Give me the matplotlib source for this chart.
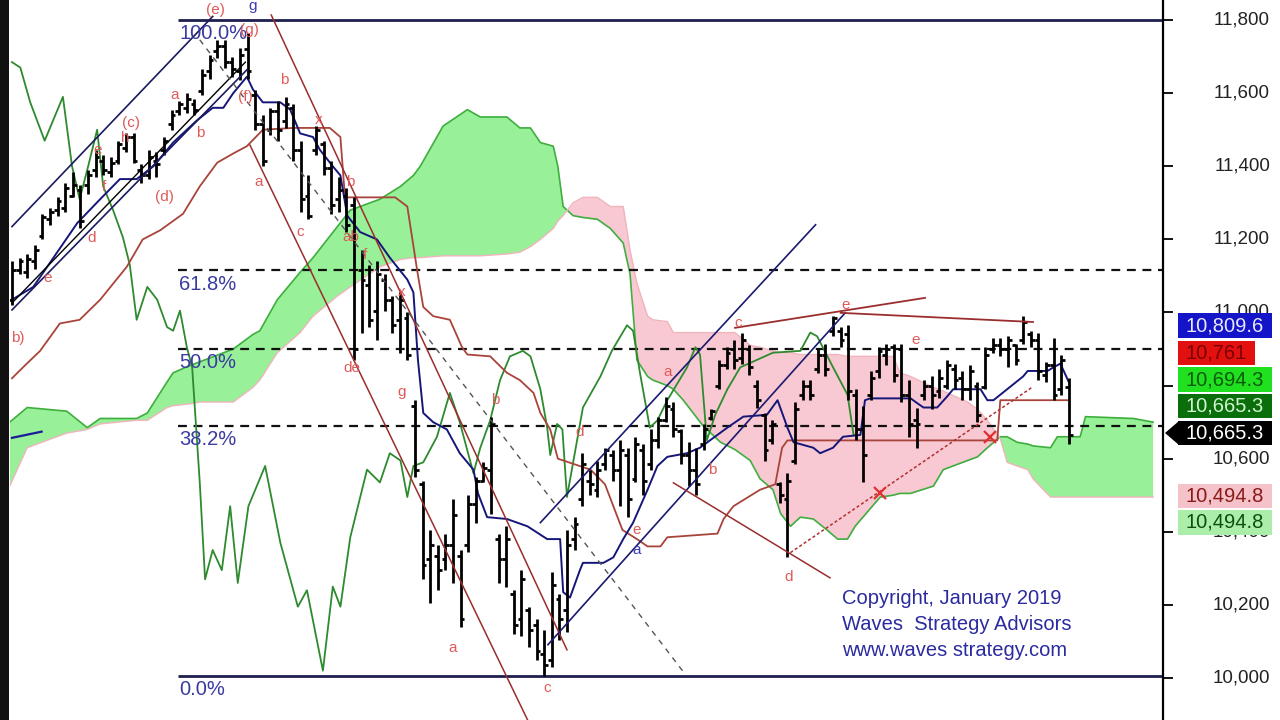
import numpy as np
import matplotlib
matplotlib.use("Agg")
import matplotlib.pyplot as plt
from matplotlib.patches import Rectangle, Polygon
from matplotlib.transforms import blended_transform_factory

plt.rcParams['font.family'] = ['Liberation Sans', 'DejaVu Sans']

# ---------------- data ----------------
highs = [11140, 11150, 11160, 11185, 11270, 11285, 11315, 11355, 11385, 11350,
         11390, 11445, 11430, 11425, 11470, 11490, 11490, 11405, 11445, 11440,
         11480, 11555, 11580, 11600, 11585, 11665, 11705, 11745, 11745, 11700,
         11725, 11765, 11610, 11540, 11560, 11580, 11590, 11570, 11470, 11375,
         11510, 11470, 11415, 11370, 11340, 11315, 11170, 11130, 11140, 11105,
         11045, 11055, 11000, 10760, 10540, 10405, 10365, 10395, 10490, 10350,
         10500, 10550, 10590, 10715, 10395, 10415, 10240, 10295, 10195, 10160,
         10130, 10290, 10230, 10405, 10440, 10615, 10570, 10595, 10630, 10625,
         10650, 10630, 10660, 10640, 10680, 10715, 10770, 10755, 10680, 10645,
         10630, 10695, 10735, 10870, 10905, 10925, 10945, 10910, 10815, 10725,
         10705, 10535, 10560, 10755, 10815, 10815, 10900, 10915, 10990, 10960,
         10965, 10790, 10745, 10840, 10905, 10915, 10915, 10915, 10815, 10740,
         10815, 10825, 10845, 10870, 10860, 10840, 10855, 10810, 10905, 10930,
         10930, 10935, 10915, 10990, 10950, 10945, 10865, 10930, 10885, 10820]
lows = [11020, 11105, 11095, 11120, 11200, 11240, 11265, 11275, 11315, 11230,
        11325, 11370, 11375, 11370, 11405, 11440, 11410, 11355, 11365, 11370,
        11430, 11500, 11540, 11545, 11540, 11595, 11640, 11695, 11670, 11645,
        11635, 11640, 11500, 11400, 11485, 11470, 11505, 11415, 11275, 11255,
        11430, 11375, 11270, 11275, 11220, 10870, 10945, 10960, 10925, 11005,
        10945, 10890, 10870, 10550, 10270, 10205, 10240, 10295, 10260, 10140,
        10345, 10425, 10535, 10450, 10260, 10250, 10120, 10115, 10085, 10050,
        10005, 10030, 10105, 10125, 10350, 10470, 10500, 10495, 10570, 10540,
        10470, 10440, 10535, 10500, 10570, 10630, 10700, 10660, 10585, 10525,
        10500, 10625, 10705, 10790, 10845, 10845, 10860, 10830, 10740, 10595,
        10640, 10480, 10330, 10585, 10760, 10760, 10835, 10825, 10935, 10905,
        10760, 10650, 10535, 10760, 10820, 10855, 10810, 10755, 10660, 10630,
        10760, 10735, 10765, 10790, 10790, 10760, 10760, 10700, 10790, 10890,
        10880, 10850, 10855, 10915, 10905, 10815, 10810, 10760, 10775, 10640]
opens = [11035, 11115, 11110, 11140, 11210, 11255, 11280, 11285, 11320, 11335,
         11350, 11390, 11415, 11385, 11415, 11450, 11480, 11390, 11375, 11415,
         11445, 11515, 11550, 11560, 11570, 11605, 11660, 11715, 11730, 11685,
         11660, 11720, 11595, 11515, 11500, 11550, 11525, 11560, 11445, 11320,
         11445, 11460, 11395, 11310, 11320, 11295, 11115, 11075, 11005, 11090,
         11035, 10980, 10985, 10745, 10530, 10325, 10335, 10325, 10365, 10335,
         10365, 10475, 10540, 10570, 10380, 10325, 10230, 10160, 10185, 10145,
         10065, 10050, 10215, 10185, 10380, 10490, 10540, 10515, 10585, 10610,
         10570, 10610, 10545, 10625, 10585, 10650, 10705, 10735, 10675, 10610,
         10570, 10640, 10710, 10800, 10855, 10900, 10875, 10900, 10800, 10720,
         10650, 10530, 10490, 10595, 10775, 10800, 10845, 10885, 10950, 10950,
         10940, 10775, 10680, 10775, 10840, 10885, 10905, 10900, 10775, 10705,
         10775, 10800, 10785, 10800, 10845, 10820, 10790, 10800, 10795, 10900,
         10910, 10900, 10910, 10925, 10940, 10925, 10830, 10855, 10790, 10795]
closes = [11115, 11140, 11145, 11170, 11260, 11275, 11305, 11340, 11350, 11250,
          11375, 11425, 11390, 11410, 11460, 11480, 11415, 11375, 11425, 11405,
          11470, 11540, 11570, 11585, 11555, 11650, 11690, 11730, 11685, 11665,
          11705, 11660, 11515, 11415, 11550, 11500, 11570, 11445, 11310, 11265,
          11500, 11395, 11295, 11335, 11240, 10900, 11090, 10980, 11105, 11035,
          10965, 11035, 10885, 10570, 10310, 10365, 10295, 10365, 10445, 10160,
          10475, 10540, 10575, 10695, 10325, 10380, 10145, 10270, 10130, 10075,
          10035, 10255, 10160, 10365, 10420, 10585, 10530, 10570, 10625, 10570,
          10625, 10490, 10640, 10540, 10650, 10705, 10745, 10680, 10610, 10570,
          10530, 10680, 10730, 10855, 10890, 10870, 10925, 10850, 10760, 10625,
          10695, 10500, 10540, 10735, 10800, 10775, 10885, 10845, 10985, 10925,
          10785, 10680, 10610, 10820, 10895, 10900, 10830, 10775, 10695, 10695,
          10800, 10775, 10820, 10855, 10815, 10790, 10840, 10720, 10885, 10910,
          10900, 10925, 10870, 10975, 10925, 10840, 10855, 10775, 10870, 10665]

tenkan_x = [0, 2.8, 4.3, 8.6, 11.6, 14.2, 16.4, 18.6, 21.2, 24.3, 26.4, 27.8, 29.1, 30.9, 31.7,
            33.0, 35.3, 36.6, 37.9, 39.6, 40.5, 42.2, 43.2, 44.1, 45.8, 48.0, 49.7, 52.0, 52.8, 53.4,
            54.1, 55.4, 57.2, 58.9, 60.7, 61.3, 62.5, 65.1, 67.8, 70.4, 72.1, 72.5, 73.4, 74.7, 75.1,
            77.8, 79.1, 80.4, 81.7, 83.6, 84.9, 86.2, 88.8, 90.5, 91.8, 94.1, 96.2, 99.3, 100.7, 102.0,
            102.8, 105.4, 106.3, 108.0, 109.3, 111.6, 112.2, 112.9, 118.2, 119.2, 119.9, 121.7, 123.0,
            123.8, 127.4, 128.3, 129.1, 130.9, 133.0, 133.6, 136.2, 137.0, 137.9, 139.0]
tenkan_y = [11035, 11070, 11115, 11245, 11310, 11365, 11365, 11400, 11465, 11525, 11560, 11560, 11600,
            11645, 11610, 11575, 11575, 11555, 11490, 11480, 11445, 11400, 11375, 11265, 11220, 11200,
            11150, 11090, 11055, 10870, 10725, 10700, 10680, 10615, 10570, 10505, 10440, 10435, 10415,
            10380, 10380, 10235, 10220, 10295, 10315, 10315, 10330, 10380, 10425, 10515, 10580, 10605,
            10615, 10630, 10650, 10685, 10715, 10720, 10760, 10685, 10645, 10630, 10615, 10630, 10660,
            10665, 10760, 10765, 10765, 10750, 10740, 10740, 10770, 10790, 10790, 10760, 10760, 10790,
            10825, 10840, 10840, 10850, 10860, 10810]

kijun_x = [0, 1.7, 3.7, 6.3, 8.9, 11.6, 15.1, 17.2, 19.5, 22.5, 24.7, 27.0, 29.1, 30.9, 33.0, 37.0,
           41.8, 43.2, 43.8, 50.4, 52.0, 53.3, 54.1, 55.4, 57.6, 59.2, 59.9, 62.9, 65.1, 66.8, 68.6,
           69.5, 70.8, 71.8, 76.1, 78.0, 79.1, 80.3, 82.2, 83.6, 85.3, 86.2, 92.8, 93.6, 94.9, 98.4,
           100.4, 101.3, 102.0, 129.6, 130.0, 139.0]
kijun_y = [10820, 10855, 10895, 10970, 10980, 11035, 11125, 11200, 11225, 11270, 11345, 11410, 11435,
           11455, 11500, 11505, 11505, 11480, 11315, 11315, 11290, 11115, 11015, 10990, 10980, 10905,
           10885, 10880, 10835, 10815, 10780, 10725, 10680, 10600, 10570, 10530, 10470, 10405, 10380,
           10360, 10360, 10385, 10395, 10435, 10470, 10515, 10530, 10630, 10650, 10650, 10760, 10760]

chikou_x = [0.0, 1.1, 2.4, 4.3, 6.7, 7.9, 8.9, 9.9, 11.2, 12.0, 13.3, 14.6, 15.5, 16.4, 17.8, 19.1,
            20.4, 21.2, 22.1, 23.0, 23.7, 24.7, 25.4, 26.4, 27.6, 28.7, 29.7, 31.1, 33.3, 35.3, 37.6,
            38.8, 40.9, 42.2, 43.2, 44.5, 46.7, 48.4, 49.7, 51.1, 52.0, 52.8, 54.1, 55.9, 57.6, 58.9,
            60.7, 61.6, 62.9, 64.2, 65.5, 67.2, 68.2, 69.5, 70.4, 70.8, 71.7, 72.4, 73.0, 75.1, 77.4,
            78.9, 80.9, 81.7, 82.6, 83.9, 84.9, 86.2, 88.8, 89.9, 90.5, 91.4, 92.5, 94.1, 95.8, 100.1,
            103.7, 105.0, 105.9, 108.0, 109.9, 110.7]
chikou_y = [11685, 11670, 11575, 11470, 11590, 11400, 11310, 11390, 11500, 11345, 11280, 11205, 11130,
            10980, 11070, 11035, 10960, 10950, 11005, 10905, 10850, 10535, 10270, 10350, 10295, 10470,
            10260, 10470, 10580, 10370, 10195, 10240, 10020, 10250, 10195, 10385, 10570, 10535, 10615,
            10595, 10495, 10580, 10590, 10660, 10780, 10700, 10560, 10630, 10705, 10815, 10880, 10895,
            10880, 10790, 10685, 10610, 10695, 10680, 10495, 10740, 10825, 10895, 10965, 10950, 10835,
            10685, 10705, 10760, 10850, 10905, 10885, 10650, 10720, 10790, 10850, 10890, 10895, 10945,
            10935, 10850, 10775, 10665]

cloud_x = [-0.3, 2.0, 4.6, 7.2, 9.9, 11.6, 16.4, 17.8, 20.4, 21.2, 23.4, 24.7, 29.1, 31.7, 32.6,
           34.9, 37.9, 39.6, 42.8, 44.5, 48.4, 51.1, 52.8, 53.7, 56.7, 59.9, 61.6, 65.1, 66.8, 68.2,
           69.5, 71.2, 71.8, 72.5, 73.8, 75.1, 77.0, 78.7, 80.4, 81.3, 82.2, 83.6, 84.3, 86.2, 87.0,
           88.3, 89.6, 90.9, 93.2, 95.1, 97.1, 98.4, 100.1, 101.1, 102.4, 103.7, 105.4, 107.2, 108.6,
           109.9, 110.9, 114.2, 115.9, 116.8, 118.2, 121.2, 122.5, 125.7, 127.0, 128.3, 130.0, 130.9,
           132.2, 133.6, 134.3, 136.6, 137.5, 140.5, 141.2, 147.5, 150.1]
span_a = [10700, 10740, 10735, 10730, 10685, 10710, 10710, 10725, 10810, 10835, 10855, 10865, 10900,
          10940, 10950, 11035, 11110, 11150, 11235, 11280, 11310, 11345, 11375, 11400, 11510, 11555,
          11535, 11535, 11505, 11505, 11465, 11455, 11400, 11290, 11265, 11260, 11255, 11230, 11190,
          11105, 10870, 10825, 10815, 10800, 10790, 10760, 10725, 10690, 10645, 10625, 10595, 10545,
          10515, 10450, 10415, 10440, 10435, 10405, 10380, 10380, 10415, 10495, 10500, 10505, 10505,
          10525, 10570, 10595, 10605, 10630, 10660, 10660, 10645, 10640, 10635, 10630, 10660, 10660,
          10715, 10710, 10700]
span_b = [10525, 10630, 10650, 10670, 10680, 10695, 10705, 10705, 10740, 10745, 10750, 10755, 10755,
          10795, 10815, 10890, 10945, 10990, 11045, 11070, 11125, 11145, 11150, 11150, 11155, 11155,
          11155, 11160, 11165, 11180, 11200, 11230, 11250, 11265, 11300, 11315, 11315, 11290, 11290,
          11170, 11080, 10990, 10980, 10975, 10945, 10945, 10945, 10945, 10945, 10945, 10910, 10905,
          10895, 10890, 10890, 10885, 10885, 10885, 10885, 10880, 10880, 10880, 10880, 10835, 10825,
          10795, 10785, 10755, 10735, 10705, 10655, 10590, 10580, 10570, 10545, 10495, 10495, 10495,
          10495, 10495, 10495]

fib_labels = ['100.0%', '61.8%', '50.0%', '38.2%', '0.0%']
fib_prices = [11800, 11115, 10900, 10690, 10005]
fib_start = 21.8

y_ticks = [10000, 10200, 10400, 10600, 10800, 11000, 11200, 11400, 11600, 11800]
y_tick_labels_shown = [10000, 10200, 10400, 10600, 11000, 11200, 11400, 11600, 11800]

# trend lines (x0, y0, x1, y1)
trend_x0 = [0, 0, 0, 34.1, 31.3, 24.7, 69.5, 70.5, 87.0, 102.4, 95.1, 109.0, 0]
trend_y0 = [11235, 11007, 11026, 11814, 11458, 11746, 10425, 10091, 10534, 10343, 10958, 10999, 10657]
trend_x1 = [26.4, 30.9, 30.7, 73.0, 67.8, 88.3, 105.7, 109.6, 107.6, 134.3, 120.1, 134.3, 3.9]
trend_y1 = [11810, 11664, 11685, 10077, 9886, 10017, 11240, 10999, 10274, 10797, 11040, 10974, 10674]

wave_text = ['(e)', '(g)', '(f)', 'a', 'b', '(c)', 'e', 'f', 'h', '(d)', 'd', 'e', 'b)',
             'b', 'x', 'a', 'c', 'b', 'ab', 'f', 'x', 'de', 'g', 'b', 'd', 'a', 'c', 'e',
             'a', 'b', 'c', 'e', 'e', 'd']
wave_x = [26.7, 31.3, 30.7, 21.4, 24.7, 15.7, 11.3, 12.1, 14.9, 20.1, 10.5, 4.7, 0.8,
          35.8, 40.3, 32.4, 37.9, 44.5, 44.6, 46.4, 51.2, 44.7, 51.3, 63.6, 74.7, 58.0, 70.4, 82.2,
          86.3, 92.1, 95.5, 109.7, 118.8, 102.2]
wave_y = [11828, 11773, 11590, 11595, 11491, 11519, 11445, 11344, 11478, 11316, 11204, 11095, 10930,
          11636, 11527, 11357, 11220, 11357, 11207, 11158, 11056, 10849, 10783, 10761, 10673, 10083,
          9973, 10405, 10838, 10570, 10970, 11021, 10925, 10277]
navy_text = ['g', 'a']
navy_x = [31.6, 82.2]
navy_y = [11838, 10351]
cross_x = [114.2, 128.7]
cross_y = [10507, 10660]

box_values = ['10,809.6', '10,761', '10,694.3', '10,665.3', '10,665.3', '10,494.8', '10,494.8']
copyright_lines = ['Copyright, January 2019', 'Waves  Strategy Advisors', 'www.waves strategy.com']

# ---------------- figure ----------------
W, H = 1280, 720
fig = plt.figure(figsize=(W / 100, H / 100), dpi=100)
fig.patch.set_facecolor('white')
ax = fig.add_axes([10 / W, 0, 1153 / W, 1])
ax.set_facecolor('white')
ax.set_xlim(-0.26, 151.4)
ax.set_ylim(9885, 11855)

# cloud
cx = np.array(cloud_x)
sa = np.array(span_a, dtype=float)
sb = np.array(span_b, dtype=float)
ax.fill_between(cx, sa, sb, where=sa >= sb, interpolate=True, color='#98f098', lw=0, zorder=1)
ax.fill_between(cx, sa, sb, where=sa < sb, interpolate=True, color='#f8c9d2', lw=0, zorder=1)
ax.plot(cx, sa, color='#3fae3f', lw=1.2, zorder=2)
ax.plot(cx, sb, color='#f0b4bc', lw=1.0, zorder=2)

# fib lines
for lab, p in zip(fib_labels, fib_prices):
    if lab in ('100.0%', '0.0%'):
        ax.hlines(p, fib_start, 151.4, color='#1e1e50', lw=2.0, zorder=2.5)
    else:
        ax.hlines(p, fib_start, 151.4, color='#111111', lw=1.6, linestyles=(0, (4, 3)), zorder=2.5)
    ax.annotate(lab, (fib_start, p), xytext=(1, -3), textcoords='offset points',
                ha='left', va='top', fontsize=14.5, color='#3a3aa0', zorder=6)

# ichimoku lines
ax.plot(chikou_x, chikou_y, color='#2e8a2e', lw=1.3, zorder=3)
ax.plot(kijun_x, kijun_y, color='#a8443a', lw=1.3, zorder=3)
ax.plot(tenkan_x, tenkan_y, color='#16167a', lw=1.4, zorder=3.2)

# OHLC bars
idx = np.arange(len(highs))
ax.vlines(idx, lows, highs, color='black', lw=2.0, zorder=4)
ax.hlines(opens, idx - 0.5, idx, color='black', lw=2.0, zorder=4)
ax.hlines(closes, idx, idx + 0.5, color='black', lw=2.0, zorder=4)

# trend lines
styles = [('#1a1a60', '-', 1.2), ('#1a1a60', '-', 1.2), ('#000000', '-', 1.0),
          ('#9a2e2e', '-', 1.1), ('#9a2e2e', '-', 1.1), ('#555555', (0, (4, 4)), 1.0),
          ('#1a1a70', '-', 1.2), ('#1a1a70', '-', 1.2), ('#9a2e2e', '-', 1.1),
          ('#b03030', (0, (2, 1.5)), 1.1), ('#9a2e2e', '-', 1.3), ('#9a2e2e', '-', 1.3),
          ('#1a1a9a', '-', 1.6)]
for x0, y0, x1, y1, (c, ls, lw) in zip(trend_x0, trend_y0, trend_x1, trend_y1, styles):
    ax.plot([x0, x1], [y0, y1], color=c, ls=ls, lw=lw, zorder=5)

# wave labels
for t, x, y in zip(wave_text, wave_x, wave_y):
    ax.text(x, y, t, color='#e05a5a', fontsize=11, ha='center', va='center', zorder=6, clip_on=True)
for t, x, y in zip(navy_text, navy_x, navy_y):
    ax.text(x, y, t, color='#3a3ab8', fontsize=11, ha='center', va='center', zorder=6, clip_on=True)
ax.plot(cross_x, cross_y, 'x', color='#e03030', ms=8, mew=1.6, zorder=6)

# axes styling
for s in ('left', 'top', 'bottom'):
    ax.spines[s].set_visible(False)
ax.spines['right'].set_linewidth(1.6)
ax.spines['right'].set_color('black')
ax.set_xticks([])
ax.yaxis.set_ticks_position('right')
ax.set_yticks(y_ticks)
ax.tick_params(axis='y', direction='out', length=7, width=1.3, labelright=False, labelleft=False)

trans = blended_transform_factory(fig.transFigure, ax.transData)
for v in y_tick_labels_shown:
    ax.text(1270 / W, v, f"{v:,}", transform=trans, ha='right', va='center',
            fontsize=13.5, color='#222222', clip_on=False)

# value boxes on the right
boxes = [(1178, 313, 1272, 338, '#1414c8', '#e8e8ff'),
         (1178, 341, 1255, 365, '#e31010', '#7a0000'),
         (1178, 367, 1272, 392, '#20e020', '#0a5a0a'),
         (1178, 394, 1272, 418, '#0a6e0a', '#d0f5d0'),
         (1178, 421, 1272, 445, '#000000', '#ffffff'),
         (1178, 484, 1272, 508, '#f4c2c8', '#8a1a1a'),
         (1178, 510, 1272, 535, '#aaeeaa', '#0a500a')]
for (x0, y0, x1, y1, fc, tc), val in zip(boxes, box_values):
    fig.add_artist(Rectangle((x0 / W, 1 - y1 / H), (x1 - x0) / W, (y1 - y0) / H,
                             transform=fig.transFigure, facecolor=fc, edgecolor='none', zorder=10))
    fig.text((x0 + x1) / 2 / W, 1 - (y0 + y1) / 2 / H, val, ha='center', va='center',
             fontsize=14.5, color=tc, zorder=11)
fig.add_artist(Polygon([(1165 / W, 1 - 433 / H), (1179 / W, 1 - 421 / H), (1179 / W, 1 - 445 / H)],
                       closed=True, transform=fig.transFigure, facecolor='black', edgecolor='none', zorder=10))

# left dark border
fig.add_artist(Rectangle((0, 0), 9 / W, 1, transform=fig.transFigure, facecolor='#111111',
                         edgecolor='none', zorder=12))

# copyright text
for k, line in enumerate(copyright_lines):
    fig.text(842 / W, 1 - (598 + k * 26) / H, line, ha='left', va='center', fontsize=14.5,
             color='#2b2ba0', zorder=11)

fig.savefig('out.png', dpi=100, facecolor='white')
